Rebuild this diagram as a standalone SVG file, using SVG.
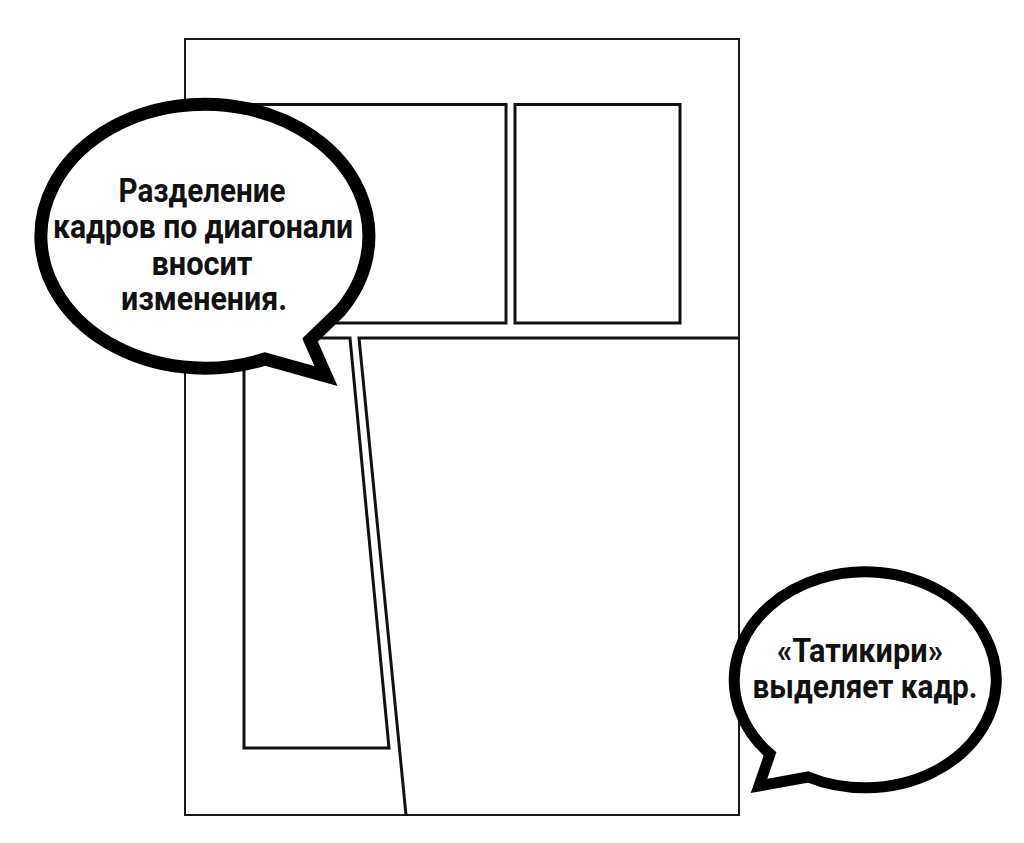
<svg xmlns="http://www.w3.org/2000/svg" width="1024" height="843" viewBox="0 0 1024 843">
<style>
.page{fill:#fff;stroke:#1a1a1a;stroke-width:2}
.panel{fill:#fff;stroke:#111;stroke-width:3;stroke-linejoin:miter}
.bubble{fill:#fff;stroke:#000;stroke-width:13;stroke-linejoin:miter;stroke-miterlimit:10}
.txt{font-family:Roboto,"Liberation Sans","DejaVu Sans",sans-serif;font-weight:700;font-size:34px;fill:#111;text-anchor:middle}
</style>
<rect width="1024" height="843" fill="#fff"/>
<g id="page"><rect class="page" x="185" y="39" width="554" height="776"/></g>
<g id="panel-top-left"><rect class="panel" x="244" y="104.5" width="262" height="218.5"/></g>
<g id="panel-top-right"><rect class="panel" x="515" y="104.5" width="165" height="218.5"/></g>
<g id="panel-lower-left"><polygon class="panel" points="244,338 350,338 389,748 244,748"/></g>
<g id="panel-lower-right"><polyline class="panel" fill="none" points="739,338 359,338 406,815"/></g>
<g id="connectors"></g>
<g id="bubble-diagonal">
<path class="bubble" d="M265,359 A164,132 0 1 1 340,311 L310,340 L326,376 Z"/>
<text class="txt" x="202" y="202" textLength="167" lengthAdjust="spacingAndGlyphs">Разделение</text>
<text class="txt" x="203" y="238" textLength="300" lengthAdjust="spacingAndGlyphs">кадров по диагонали</text>
<text class="txt" x="202" y="275" textLength="101" lengthAdjust="spacingAndGlyphs">вносит</text>
<text class="txt" x="204" y="310" textLength="166" lengthAdjust="spacingAndGlyphs">изменения.</text>
</g>
<g id="bubble-tachikiri">
<path class="bubble" d="M808,777 A131,108 0 1 0 770,754 L759,786 Z" style="stroke-width:11"/>
<text class="txt" x="860" y="662" textLength="166" lengthAdjust="spacingAndGlyphs">«Татикири»</text>
<text class="txt" x="865" y="698" textLength="225" lengthAdjust="spacingAndGlyphs">выделяет кадр.</text>
</g>
</svg>
